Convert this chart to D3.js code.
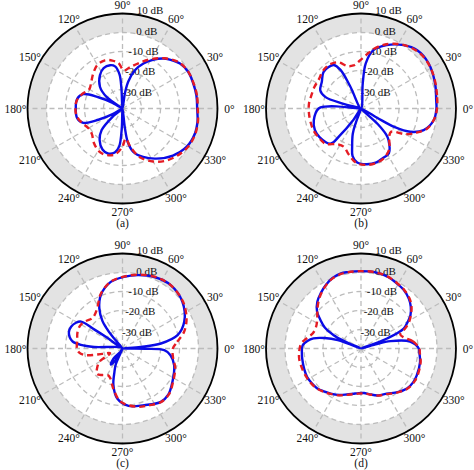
<!DOCTYPE html>
<html><head><meta charset="utf-8">
<script src="https://cdn.jsdelivr.net/npm/d3@7"></script>
<style>body{margin:0;background:#fff}svg{display:block}</style>
</head><body>
<svg id="chart" width="474" height="470"></svg>
<script>
// ---- data (angle in degrees, value in dB) ----
const rTicks = [-30, -20, -10, 0, 10];
const rTickLabels = ["-30 dB", "-20 dB", "-10 dB", "0 dB", "10 dB"];
const angleTicks = [0, 30, 60, 90, 120, 150, 180, 210, 240, 270, 300, 330];
const angleTickLabels = ["0°", "30°", "60°", "90°", "120°", "150°", "180°", "210°", "240°", "270°", "300°", "330°"];
const panelLabels = ["(a)", "(b)", "(c)", "(d)"];

const simA = [[0,-0.7],[10,-0.5],[20,-0.5],[29,-0.4],[38,-1.6],[46,-4.2],[51,-6.1],[58,-9.8],[65,-13.9],[72,-18.8],[78,-25.6],[81,-32],[86,-40],[93,-30],[95,-22],[100,-17.5],[106,-16.3],[115,-16.5],[124,-18.8],[136,-23.5],[144,-29.6],[147,-40],[150,-34],[155,-26],[160,-18],[168,-15.6],[180,-15.4],[192,-15.6],[200,-18],[205,-26],[210,-34],[214,-40],[220,-33],[226,-24.2],[234,-19.5],[244,-16],[252,-15.1],[260,-16.5],[265,-20],[268,-30],[273,-40],[277,-30],[279,-22],[284,-16.5],[293,-12.3],[304,-8.2],[317,-3.7],[329,-0.7],[341,0.35],[350,0.1]];
const measA = [[0,-0.4],[10,-0.2],[20,-0.3],[30,-0.4],[40,-1.8],[50,-5.5],[60,-10],[70,-14.5],[80,-18],[88,-20],[95,-16],[102,-14.2],[110,-13],[120,-13.5],[130,-16],[140,-18.5],[150,-19.8],[160,-17.5],[170,-15.6],[180,-15.2],[190,-15.6],[200,-17.5],[210,-19.3],[220,-19],[230,-16.5],[242,-14.2],[252,-14.2],[261,-15.6],[270,-20],[276,-24],[282,-19],[290,-12.5],[300,-7.8],[310,-4.2],[320,-1.8],[330,0],[340,0.6],[350,0.3]];

const simB = [[0,-0.3],[6,-0.2],[19,1.2],[34,2.8],[46,2.6],[56,0.2],[68,-4],[78,-8.6],[84,-16.1],[86,-26.8],[100,-40],[116,-27],[118,-17],[122,-13],[128,-12.3],[136,-12.5],[146,-15.1],[156,-16.5],[162,-20.2],[165,-30],[170,-40],[175,-27],[177,-21],[180,-17.7],[194,-14.4],[205,-13.2],[215,-13.5],[229,-15.4],[232,-22],[236,-32],[244,-40],[250,-32],[252,-26],[257,-19.3],[260,-14.5],[266,-11.5],[276,-10.5],[286,-10.5],[294,-11.5],[302,-12.3],[311,-17.9],[314,-21],[317,-28],[323,-40],[330,-30],[331,-20],[334.7,-11.3],[341,-5.1],[351,-1.2]];
const measB = [[0,0],[10,0.6],[20,1.5],[30,2.4],[40,2.7],[50,1.6],[60,-0.8],[70,-4.3],[78,-8],[85,-12],[92,-15],[100,-17],[108,-16.5],[116,-13],[125,-11.6],[135,-11.8],[145,-13],[155,-13],[165,-13],[175,-12.5],[185,-12.5],[195,-12.5],[205,-12.5],[215,-13],[225,-13.7],[236,-17.4],[246,-17.9],[255,-15],[265,-11.3],[275,-10.2],[285,-10.2],[295,-11.3],[305,-14],[315,-19],[322,-20],[330,-13],[336,-8.5],[343,-3.7],[352,-1]];

const simC = [[2,-40],[5,-30.4],[7.4,-19.6],[13.6,-10.2],[23.4,-4.6],[38,0],[53,1.9],[66,1.2],[78,-0.5],[89,-2.3],[100,-4.4],[112,-9.6],[120,-15.6],[126,-22],[128,-26],[130,-32],[138,-40],[145,-30],[146,-22],[147,-14],[151,-12],[157,-10.6],[163,-10.5],[168,-11.6],[172,-13.5],[175,-18],[177,-25],[200,-40],[228,-33],[234,-29.6],[239,-33],[243,-40],[247,-31],[251,-27],[256,-20.2],[264,-13.5],[276,-9.6],[291,-8.1],[305.7,-5.4],[315,-5.8],[326.3,-8.4],[342,-11.4],[352,-14.5],[357.7,-18],[359.3,-28]];
const measC = [[0,-13.5],[7,-11],[15,-6.5],[25,-2.8],[38,0.3],[53,1.9],[66,1.4],[78,-0.3],[89,-2.2],[100,-4.3],[112,-9.2],[120,-14],[127,-16.5],[135,-17.5],[143,-16],[151,-14.7],[160,-14.8],[170,-15.8],[180,-16],[185,-17],[190,-20],[195,-29],[201,-33],[210,-26],[218,-23],[225,-21],[233,-22.5],[242,-24],[248,-23],[257,-18.4],[268,-12],[284,-8.4],[295,-7],[305,-5.3],[315,-5.6],[326,-8],[340,-10.5],[350,-13]];

const simD = [[0,-9.6],[8,-13.9],[14,-24],[16,-32],[18,-40],[19.7,-34.7],[21,-25.3],[25,-15.2],[30,-11.5],[34,-8.6],[40,-5.8],[46,-3.7],[54,-1.8],[61,-0.9],[70,0.3],[80,0.8],[90,0.7],[100,0.8],[105,0.9],[112,0],[119,-1.8],[126,-4],[133,-6.3],[140,-9.8],[145,-14],[150,-18],[154,-24],[156,-30],[158,-40],[160,-27],[164,-20],[168,-14.4],[172,-11.5],[177,-9.2],[184,-8.8],[190,-8.6],[200,-8.2],[208,-7.9],[215,-8.3],[222,-8.8],[230,-10.3],[236,-11.4],[245,-13],[253,-14.7],[260,-15.8],[267,-16.5],[274,-16.5],[280,-15.6],[290,-13.7],[300,-12.6],[310,-10],[319,-7.9],[327,-7.3],[334,-7.4],[347,-8.1],[356,-9.2]];
const measD = [[0,-9.3],[8,-12.5],[15,-17],[20,-18],[25,-14],[30,-10.5],[35,-7.8],[40,-5.3],[46,-3.3],[54,-1.6],[61,-0.7],[70,0.4],[80,0.8],[90,0.7],[100,0.7],[105,0.6],[112,-0.2],[119,-2],[126,-4.3],[133,-7],[140,-10],[147,-12.5],[155,-13.8],[162,-13.5],[168,-11.5],[175,-8.5],[182,-7.5],[190,-7],[200,-7.3],[208,-7.6],[215,-8],[222,-8.6],[230,-10],[236,-11.2],[245,-12.8],[253,-14.5],[260,-15.6],[267,-16.2],[274,-16.3],[280,-15.5],[290,-13.6],[300,-12.3],[310,-9.8],[319,-7.7],[327,-7],[334,-7],[347,-7.8],[356,-9]];

const panels = [
  {cx: 122.5, cy: 108.5, sim: simA, meas: measA, label: panelLabels[0]},
  {cx: 361,   cy: 108.5, sim: simB, meas: measB, label: panelLabels[1]},
  {cx: 122.5, cy: 348.5, sim: simC, meas: measC, label: panelLabels[2]},
  {cx: 361,   cy: 348.5, sim: simD, meas: measD, label: panelLabels[3]}
];

// ---- drawing ----
const R = 95;
const FONT = "'Liberation Serif','Times New Roman',serif";
const r = d3.scaleLinear().domain([-40, 10]).range([0, R]).clamp(true);
const svg = d3.select("#chart");
const rad = a => a * Math.PI / 180;

const line = d3.lineRadial()
  .angle(d => rad(90 - d[0]))
  .radius(d => r(d[1]))
  .curve(d3.curveCatmullRomClosed.alpha(0.5));

panels.forEach(p => {
  const g = svg.append("g").attr("transform", `translate(${p.cx},${p.cy})`);
  g.append("circle").attr("r", R).attr("fill", "#e3e3e3");
  g.append("circle").attr("r", r(0)).attr("fill", "#ffffff");

  g.selectAll("circle.grid").data(rTicks.filter(v => v < 10)).join("circle")
    .attr("class", "grid").attr("r", d => r(d))
    .attr("fill", "none").attr("stroke", "#bcbcbc").attr("stroke-width", 1.3)
    .attr("stroke-dasharray", "5,3.5");
  g.selectAll("line.spoke").data(angleTicks).join("line")
    .attr("class", "spoke")
    .attr("x1", 0).attr("y1", 0)
    .attr("x2", d => R * Math.cos(rad(d))).attr("y2", d => -R * Math.sin(rad(d)))
    .attr("stroke", "#bcbcbc").attr("stroke-width", 1.3).attr("stroke-dasharray", "5,3.5");
  g.append("circle").attr("r", R).attr("fill", "none").attr("stroke", "#000").attr("stroke-width", 1.8);

  g.selectAll("text.rt").data(rTicks).join("text")
    .attr("class", "rt")
    .attr("x", d => 11.3 + 0.17 * r(d))
    .attr("y", d => -(1.075 * r(d) - 3.8))
    .attr("text-anchor", "middle").attr("dominant-baseline", "central")
    .attr("font-family", FONT).attr("font-size", 11).attr("fill", "#111")
    .text((d, i) => rTickLabels[i]);

  g.selectAll("text.at").data(angleTicks).join("text")
    .attr("class", "at")
    .attr("x", d => 107 * Math.cos(rad(d)))
    .attr("y", d => -103.5 * Math.sin(rad(d)))
    .attr("text-anchor", "middle").attr("dominant-baseline", "central")
    .attr("font-family", FONT).attr("font-size", 11.5).attr("fill", "#111")
    .text((d, i) => angleTickLabels[i]);

  g.append("path").attr("d", line(p.sim))
    .attr("fill", "none").attr("stroke", "#0b0be6").attr("stroke-width", 2.4)
    .attr("stroke-linejoin", "round");
  g.append("path").attr("d", line(p.meas))
    .attr("fill", "none").attr("stroke", "#e51c24").attr("stroke-width", 2.4)
    .attr("stroke-dasharray", "6,4");

  g.append("text").attr("x", 0).attr("y", 114.5)
    .attr("text-anchor", "middle").attr("dominant-baseline", "central")
    .attr("font-family", FONT).attr("font-size", 11.5).attr("fill", "#111")
    .text(p.label);
});
</script>
</body></html>
